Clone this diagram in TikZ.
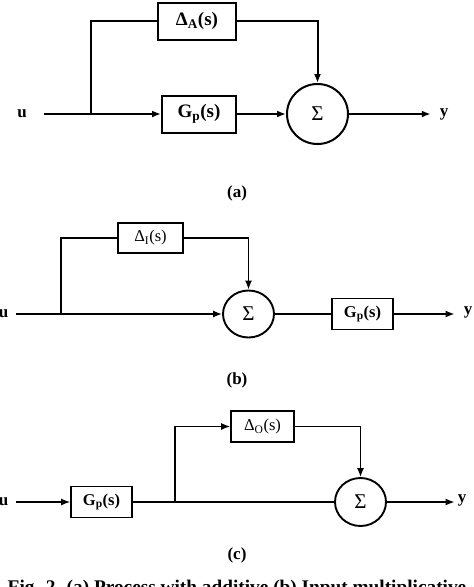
\documentclass[tikz,border=0pt]{standalone}
\usepackage{fontspec}
\setmainfont{Liberation Serif}
\usetikzlibrary{arrows.meta,shapes.geometric}
\tikzset{
 block/.style={draw, rectangle, inner sep=0pt},
 sum node/.style={draw, ellipse, inner sep=0pt, font=\fontsize{21}{21}\selectfont},
 label text/.style={inner sep=0pt, font=\fontsize{17}{17}\selectfont\bfseries},
 tip/.style={-{Latex[length=9pt,width=7pt]}}
}
\newcommand{\sub}[1]{\textsubscript{#1}}
\newcommand{\sizelarge}{\fontsize{19}{19}\selectfont}
\newcommand{\sizemid}{\fontsize{16.5}{16.5}\selectfont}

\begin{document}
\begin{tikzpicture}[x=1pt, y=-1pt]
 \useasboundingbox (0,0) rectangle (474,587);
%
% (a)
 \begin{scope}[line width=2pt]
 \node[label text] (ua) at (22,114) {u};
 \node[block, minimum width=78pt, minimum height=37pt, font=\sizelarge\bfseries] (Da) at (197,21) {Δ\sub{A}(s)};
 \node[block, minimum width=74pt, minimum height=37pt, font=\sizelarge\bfseries] (Ga) at (199,114) {G\sub{p}(s)};
 \node[sum node, minimum width=61pt, minimum height=60pt] (Sa) at (317.5,114) {Σ};
 \node[label text] (ya) at (444,114) {y};
 \coordinate (ba) at (91,114);
 \draw[tip, shorten <=16pt] (ua) -- (Ga);
 \draw (ba) |- (Da);
 \draw[tip] (Da) -| (Sa);
 \draw[tip] (Ga) -- (Sa);
 \draw[tip, shorten >=8pt] (Sa) -- (ya);
 \end{scope}
 \node[label text] (capa) at (237,193) {(a)};
%
% (b)
 \begin{scope}[line width=1.4pt]
 \node[label text] (ub) at (3.5,314) {u};
 \node[block, line width=1.7pt, minimum width=65pt, minimum height=30pt, font=\sizemid] (Db) at (150.5,238) {Δ\sub{I}(s)};
 \node[sum node, line width=1.9pt, minimum width=51pt, minimum height=47pt] (Sb) at (248.5,314) {Σ};
 \node[block, line width=1.7pt, minimum width=61pt, minimum height=31pt, font=\sizemid\bfseries] (Gb) at (362.5,314) {G\sub{p}(s)};
 \node[label text] (yb) at (468,312) {y};
 \coordinate (bb) at (61,314);
 \draw[tip, shorten <=7pt] (ub) -- (Sb);
 \draw (bb) |- (Db);
 \draw[tip] (Db) -| (Sb);
 \draw (Sb) -- (Gb);
 \draw[tip, shorten >=8.5pt] (Gb) -- (Gb -| yb.west);
 \end{scope}
 \node[label text] (capb) at (237,380) {(b)};
%
% (c)
 \begin{scope}[line width=1.4pt]
 \node[label text] (uc) at (3.5,502) {u};
 \node[block, line width=1.7pt, minimum width=61pt, minimum height=31pt, font=\sizemid\bfseries] (Gc) at (101.5,502) {G\sub{p}(s)};
 \node[block, line width=1.7pt, minimum width=63pt, minimum height=31pt, font=\sizemid] (Dc) at (262.5,426.5) {Δ\sub{O}(s)};
 \node[sum node, line width=1.9pt, minimum width=51pt, minimum height=48pt] (Sc) at (360.5,502) {Σ};
 \node[label text] (yc) at (462,500) {y};
 \coordinate (bc) at (175,502);
 \draw[tip, shorten <=7.5pt] (uc) -- (Gc);
 \draw (Gc) -- (Sc);
 \draw[tip] (bc) |- (Dc);
 \draw[tip] (Dc) -| (Sc);
 \draw[tip, shorten >=2.5pt] (Sc) -- (Sc -| yc.west);
 \end{scope}
 \node[label text] (capc) at (237,555) {(c)};
%
 \node[anchor=base, inner sep=0pt, font=\fontsize{19.3}{19.3}\selectfont\bfseries] (fig) at (237,593.5) {Fig. 2. (a) Process with additive (b) Input multiplicative};
\end{tikzpicture}
\end{document}
